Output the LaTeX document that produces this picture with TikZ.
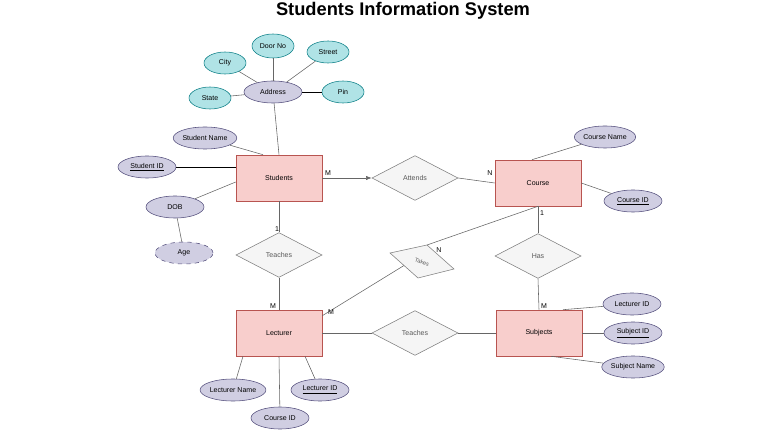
\documentclass[tikz,border=0pt]{standalone}
\usepackage{fontspec}
\setmainfont{Liberation Sans}
\usetikzlibrary{shapes.geometric,arrows.meta,calc}
\definecolor{attrfill}{HTML}{D0CEE2}
\definecolor{attrline}{HTML}{56517E}
\definecolor{subfill}{HTML}{B0E3E6}
\definecolor{subline}{HTML}{0E8088}
\definecolor{entfill}{HTML}{F8CECC}
\definecolor{entline}{HTML}{B85450}
\definecolor{relfill}{HTML}{F5F5F5}
\tikzset{
  attr/.style={ellipse,draw=attrline,fill=attrfill,minimum width=1.45cm,minimum height=0.55cm,inner sep=0pt,font=\fontsize{5}{6}\selectfont},
  subattr/.style={attr,draw=subline,fill=subfill,minimum width=1.05cm},
  entity/.style={rectangle,draw=entline,fill=entfill,minimum width=2.15cm,minimum height=1.15cm,font=\fontsize{5}{6}\selectfont},
  rel/.style={diamond,draw=gray,fill=relfill,aspect=1.9,minimum width=2.15cm,minimum height=1.12cm,inner sep=0pt,text=gray!70!black,font=\fontsize{5}{6}\selectfont},
  card/.style={font=\fontsize{5}{6}\selectfont},
  link/.style={draw=gray!80!black,thin}
}
\begin{document}
\begin{tikzpicture}[x=0.025cm,y=-0.025cm]
	\useasboundingbox (0,0) rectangle (768,431);
	\node (title) at (403,11) {\fontsize{13}{15}\selectfont\bfseries Students Information System};

	% entities
	\node[entity] (students) at (279,178) {Students};
	\node[entity] (course) at (538,183) {Course};
	\node[entity] (lecturer) at (279,333) {Lecturer};
	\node[entity] (subjects) at (539,333) {Subjects};

	% relationships
	\node[rel] (attends) at (415,178) {Attends};
	\node[rel] (teachesA) at (279,255) {Teaches};
	\node[rel] (has) at (538,256) {Has};
	\node[rel] (teachesB) at (415,333) {Teaches};
	\coordinate (takesW) at (390,253);
	\coordinate (takesN) at (427,245);
	\coordinate (takesE) at (454,269);
	\coordinate (takesS) at (418,278);
	\draw[draw=gray,fill=relfill] (takesW) -- (takesN) -- (takesE) -- (takesS) -- cycle;
	\node[rotate=-20,text=gray!70!black,font=\fontsize{4}{5}\selectfont] (takes) at (422,262) {Takes};

	% address and its parts
	\node[attr,minimum width=1.45cm] (address) at (273,92) {Address};
	\node[subattr,minimum height=0.6cm] (doorno) at (273,46) {Door No};
	\node[subattr] (city) at (225,63) {City};
	\node[subattr] (street) at (328,52) {Street};
	\node[subattr] (state) at (210,98) {State};
	\node[subattr] (pin) at (343,92) {Pin};

	% attributes
	\node[attr] (stuname) at (205,138) {Student Name};
	\node[attr] (stuid) at (147,167) {\underline{Student ID}};
	\node[attr] (dob) at (175,207) {DOB};
	\node[attr,dashed] (age) at (184,253) {Age};
	\node[attr] (cname) at (605,137) {Course Name};
	\node[attr] (cid) at (633,201) {\underline{Course ID}};
	\node[attr] (slecid) at (632,304) {Lecturer ID};
	\node[attr] (subid) at (633,333) {\underline{Subject ID}};
	\node[attr] (subname) at (633,367) {Subject Name};
	\node[attr] (lecname) at (233,390) {Lecturer Name};
	\node[attr] (lcid) at (280,418) {Course ID};
	\node[attr] (lecid) at (320,390) {\underline{Lecturer ID}};

	% attribute links
	\draw[link] (address) -- (doorno);
	\draw[link] (address) -- (city);
	\draw[link] (address) -- (street);
	\draw[link] (address) -- (state);
	\draw[link,semithick,black] (address) -- (pin);
	\draw[link] (address) -- (students.north);
	\draw[link] (stuname) -- ([xshift=-0.4cm]students.north);
	\draw[link,semithick,black] (stuid) -- (students.west|-stuid);
	\draw[link] (dob) -- ([yshift=-0.1cm]students.west);
	\draw[link] (dob) -- (age);
	\draw[link] (cname) -- ([xshift=-0.15cm]course.north);
	\draw[link] (cid) -- (course.east);
	\draw[link] (slecid) -- ([xshift=0.6cm]subjects.north);
	\draw[link] (subid) -- (subjects.east);
	\draw[link] (subname) -- ([xshift=0.3cm]subjects.south);
	\draw[link] (lecname) -- ([xshift=-0.9cm]lecturer.south);
	\draw[link] (lcid) -- (lecturer.south);
	\draw[link] (lecid) -- ([xshift=0.65cm]lecturer.south);

	% relationship links
	\draw[link,-{Latex[length=4pt]}] (students.east) -- (attends.west);
	\draw[link] (attends.east) -- (course.west);
	\draw[link] (students.south) -- (teachesA.north);
	\draw[link] (teachesA.south) -- (lecturer.north);
	\draw[link] (course.south) -- (has.north);
	\draw[link] (has.south) -- (subjects.north);
	\draw[link] (lecturer.east) -- (teachesB.west);
	\draw[link] (teachesB.east) -- (subjects.west);
	\draw[link] ([yshift=-0.15cm]lecturer.north east) -- ($(takesW)!0.5!(takesS)$);
	\draw[link] (takesN) -- (course.south);

	% cardinalities
	\node[card] (cM1) at (328,173) {M};
	\node[card] (cN1) at (490,173) {N};
	\node[card] (c11) at (277,229) {1};
	\node[card] (cM2) at (273,306) {M};
	\node[card] (cM3) at (331,312) {M};
	\node[card] (cN2) at (439,250) {N};
	\node[card] (c12) at (542,213) {1};
	\node[card] (cM4) at (544,306) {M};
\end{tikzpicture}
\end{document}
